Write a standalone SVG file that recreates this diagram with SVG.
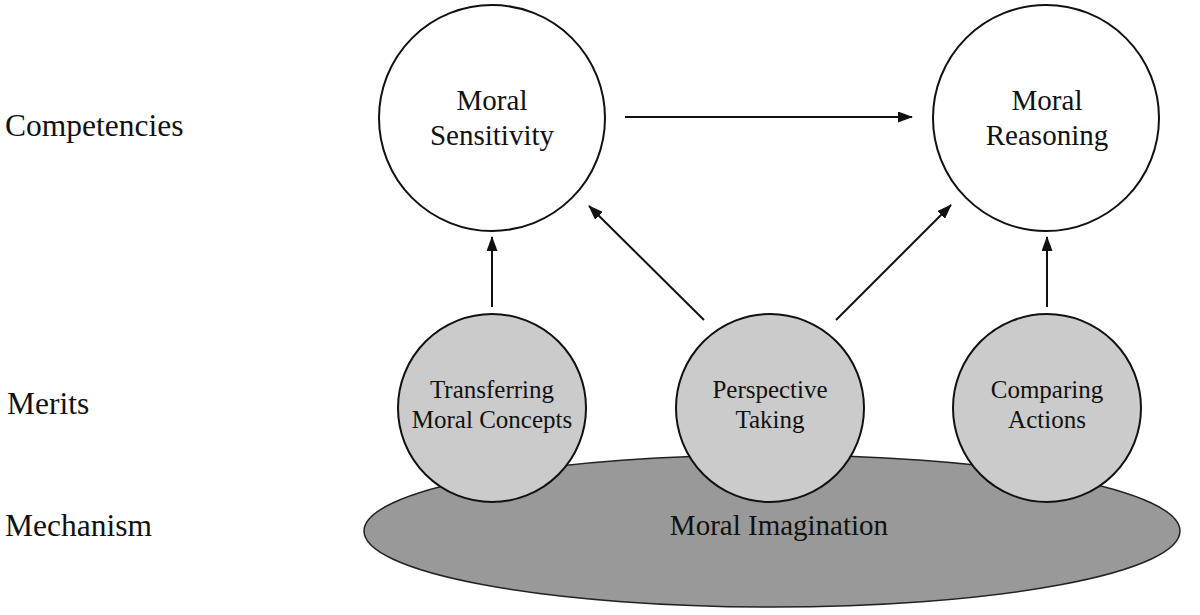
<svg xmlns="http://www.w3.org/2000/svg" width="1200" height="615" viewBox="0 0 1200 615">
<defs>
<style>
text{font-family:"Liberation Serif","Times New Roman",serif;fill:#111}
.lbl{font-size:31.5px}
.big{font-size:29px;text-anchor:middle}
.mid{font-size:25px;text-anchor:middle}
.top{fill:#fff;stroke:#111;stroke-width:2}
.merit{fill:#cbcbcb;stroke:#111;stroke-width:2}
.mech{fill:#999;stroke:#222;stroke-width:1.5}
.conn line{stroke:#111;stroke-width:2;marker-end:url(#ah)}
</style>
<marker id="ah" viewBox="0 0 15 11" refX="14" refY="5.5" markerWidth="15" markerHeight="11" markerUnits="userSpaceOnUse" orient="auto">
<path d="M0,0 L15,5.5 L0,11 z" fill="#111"/>
</marker>
</defs>
<rect width="1200" height="615" fill="#fff"/>
<g id="row-labels">
<text class="lbl" x="5" y="136">Competencies</text>
<text class="lbl" x="7" y="414">Merits</text>
<text class="lbl" x="5" y="536">Mechanism</text>
</g>
<g id="moral-imagination">
<ellipse class="mech" cx="772" cy="531" rx="408" ry="76"/>
</g>
<g id="moral-sensitivity">
<circle class="top" cx="492" cy="118" r="113"/>
<text class="big" x="492" y="110">Moral</text>
<text class="big" x="492" y="145">Sensitivity</text>
</g>
<g id="moral-reasoning">
<circle class="top" cx="1046" cy="118" r="113"/>
<text class="big" x="1047" y="110">Moral</text>
<text class="big" x="1047" y="145">Reasoning</text>
</g>
<g id="transferring">
<circle class="merit" cx="492" cy="408" r="94"/>
<text class="mid" x="492" y="398">Transferring</text>
<text class="mid" x="492" y="428">Moral Concepts</text>
</g>
<g id="perspective">
<circle class="merit" cx="770" cy="408" r="94"/>
<text class="mid" x="770" y="398">Perspective</text>
<text class="mid" x="770" y="428">Taking</text>
</g>
<g id="comparing">
<circle class="merit" cx="1047" cy="408" r="94"/>
<text class="mid" x="1047" y="398">Comparing</text>
<text class="mid" x="1047" y="428">Actions</text>
</g>
<g id="mech-label">
<text class="big" x="779" y="535">Moral Imagination</text>
</g>
<g class="conn" id="connectors">
<line x1="625" y1="117" x2="912" y2="117"/>
<line x1="492" y1="307" x2="492" y2="237"/>
<line x1="1047" y1="307" x2="1047" y2="237"/>
<line x1="704" y1="320" x2="589" y2="206"/>
<line x1="836" y1="320" x2="951" y2="205"/>
</g>
</svg>
